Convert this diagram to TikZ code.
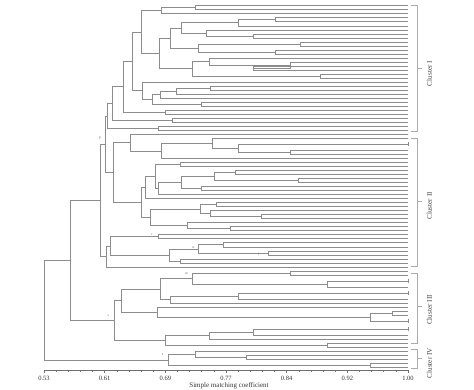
\documentclass[tikz,border=0pt]{standalone}
\usepackage{fontspec}
\setmainfont{Liberation Serif}
\usetikzlibrary{calc}
\definecolor{treegray}{HTML}{8C8C8C}
\definecolor{bracegray}{HTML}{ABABAB}

% one merge of the dendrogram: name, position, upper child, lower child
\newcommand{\joinpair}[4]{%
  \edef\jname{#1}%
  \draw[twig] let \p1=(#3), \p2=(#4), \p3=($(#3)!0.5!(#4)$) in
    (#3) -- (#2pt,\y1) -- (#2pt,\y2) -- (#4)
    (#2pt,\y3) coordinate (\jname);}

\begin{document}
\begin{tikzpicture}[
  x=1pt, y=-1pt,
  twig/.style={draw=treegray, line width=0.55pt},
  brace/.style={draw=bracegray, line width=0.5pt},
  axisline/.style={draw=treegray!80!black, line width=0.5pt},
  ticklab/.style={font=\fontsize{6.5}{7}\selectfont, text=black!80, inner sep=0pt},
  axlab/.style={font=\fontsize{7}{8}\selectfont, text=black!80, inner sep=0pt},
  clab/.style={font=\fontsize{7.2}{8}\selectfont, text=black!75, inner sep=0pt, rotate=90},
  tag/.style={font=\fontsize{3.6}{4}\selectfont\itshape, text=black!60, inner sep=0pt}
]
\useasboundingbox (0,0) rectangle (474,390);

% Leaves - evenly spaced at similarity 1.00
\foreach \i in {0,...,90}{
  \coordinate (L\i) at (408, {5.7+4.018*\i});
}

% Cluster I
\foreach \nm/\pos/\ca/\cb in {
  a1/195/L0/L1, a2/161.7/a1/L2, b1/275/L3/L4, b2/238.5/b1/L5,
  c1/253/L7/L8, c2/206/L6/c1, b3/181/b2/c2, d1/300/L9/L10,
  d2/275/L11/L12, d3/198.3/d1/d2, e1/170/b3/d3, f1/253/L15/L16,
  f2/290/L14/f1, f3/209.3/L13/f2, f4/320/L17/L18, f5/192.3/f3/f4,
  e2/159.3/e1/f5, g1/141.7/a2/e2, h1/210/L20/L21, h2/176/h1/L22,
  h3/160/h2/L23, h4/201.7/L24/L25, h5/152.7/h3/h4, h6/142.7/L19/h5,
  k1/132.3/g1/h6, l1/165.7/L26/L27, k2/123.3/k1/l1, n1/172.3/L28/L29,
  k3/112.3/k2/n1, o1/158.3/L30/L31, cI/107.3/k3/o1%
}{
  \joinpair{\nm}{\pos}{\ca}{\cb}
}

% Cluster II
\foreach \nm/\pos/\ca/\cb in {
  t1/408/L34/L35, t2/290.3/L36/L37, t3/238.7/t1/t2, t4/212.7/L33/t3,
  t5/161/t4/L38, t6/130.7/L32/t5, v0/180/L39/L40, v1/235/L41/L42,
  v1b/298/L43/L44, v2/214.3/v1/v1b, v3/201.7/L45/L46, v4/181.7/v2/v3,
  v5/158.3/v4/L47, v6/155/v0/v5, v7/145/v6/L48, w1/216.7/L49/L50,
  w2/261.7/L52/L53, w3/210/L51/w2, w4/200/w1/w3, w5/230/L55/L56,
  w6/187.7/L54/w5, w7/150/w4/w6, x0/141.7/v7/w7, q1/113.3/t6/x0,
  q2/105.3/cI/q1, r1/158.3/L57/L58, s1/223.3/L59/L60, s3/268/L61/L62,
  s2/198.3/s1/s3, s4/180/L63/L64, s5/169/s2/s4, r2/110/r1/s5,
  r3/106/r2/L65, pII/100/q2/r3%
}{
  \joinpair{\nm}{\pos}{\ca}{\cb}
}

% Cluster III
\foreach \nm/\pos/\ca/\cb in {
  x1/408/L68/L69, x2/327/x1/L70, x3a/290/L66/L67, x3/192.3/x3a/x2,
  x4/408/L71/L72, x5/238.7/x4/L73, x6/170/x5/L74, x7/160/x3/x6,
  x8/392.7/L76/L77, x9/408/L78/L79, x10/370.3/x8/x9, x11/157.7/L75/x10,
  x12/121.7/x7/x11, y11/408/L80/L81, y12/253.3/y11/L82, y13/209.3/y12/L83,
  y14/327/L84/L85, y15/165.7/y13/y14, cIII/114.3/x12/y15%
}{
  \joinpair{\nm}{\pos}{\ca}{\cb}
}

% Cluster IV and the top joins
\foreach \nm/\pos/\ca/\cb in {
  z1/246/L87/L88, z2/195/L86/z1, z3/370/L89/L90, cIV/168.3/z2/z3,
  rA/70/pII/cIII, root/44/rA/cIV%
}{
  \joinpair{\nm}{\pos}{\ca}{\cb}
}

% Small node letters
\foreach \i/\px/\py/\lt in {
  1/100/138.5/p, 2/151.7/235/r, 3/193.3/247.5/a, 4/258.4/254/l,
  5/186.5/274/m, 6/108.3/315.5/s, 7/162.5/355/t%
}{
  \node[tag] (tag\i) at (\px,\py) {\lt};
}

% Axis
\coordinate (axL) at (44,370);
\coordinate (axR) at (408,370);
\draw[axisline] (axL) -- (axR);
\foreach \k in {0,...,30}{
  \draw[axisline] ({44+12.1333*\k},370) -- ++(0,2);
}
\foreach \k/\v in {0/0.53, 1/0.61, 2/0.69, 3/0.77, 4/0.84, 5/0.92, 6/1.00}{
  \draw[axisline] ({44+60.6667*\k},370) -- ++(0,3);
  \node[ticklab] (tick\k) at ({44+60.6667*\k},378.6) {\v};
}
\node[axlab] (axtitle) at (229,385.8) {Simple matching coefficient};

% Cluster braces on the right
\foreach \nm/\ya/\yb/\ym/\ty/\txt in {
  I/5.5/131/68.5/73.7/Cluster I, II/138.3/266/201.7/205.8/Cluster II,
  III/273/343/306.7/310/Cluster III, IV/349/368/358.3/363.3/Cluster IV%
}{
  \draw[brace] (411,\ya) -- (417,\ya) -- (417,\yb) -- (411,\yb)
               (417,\ym) -- (421.5,\ym);
  \node[clab] (cl\nm) at (429.5,\ty) {\txt};
}

\end{tikzpicture}
\end{document}
